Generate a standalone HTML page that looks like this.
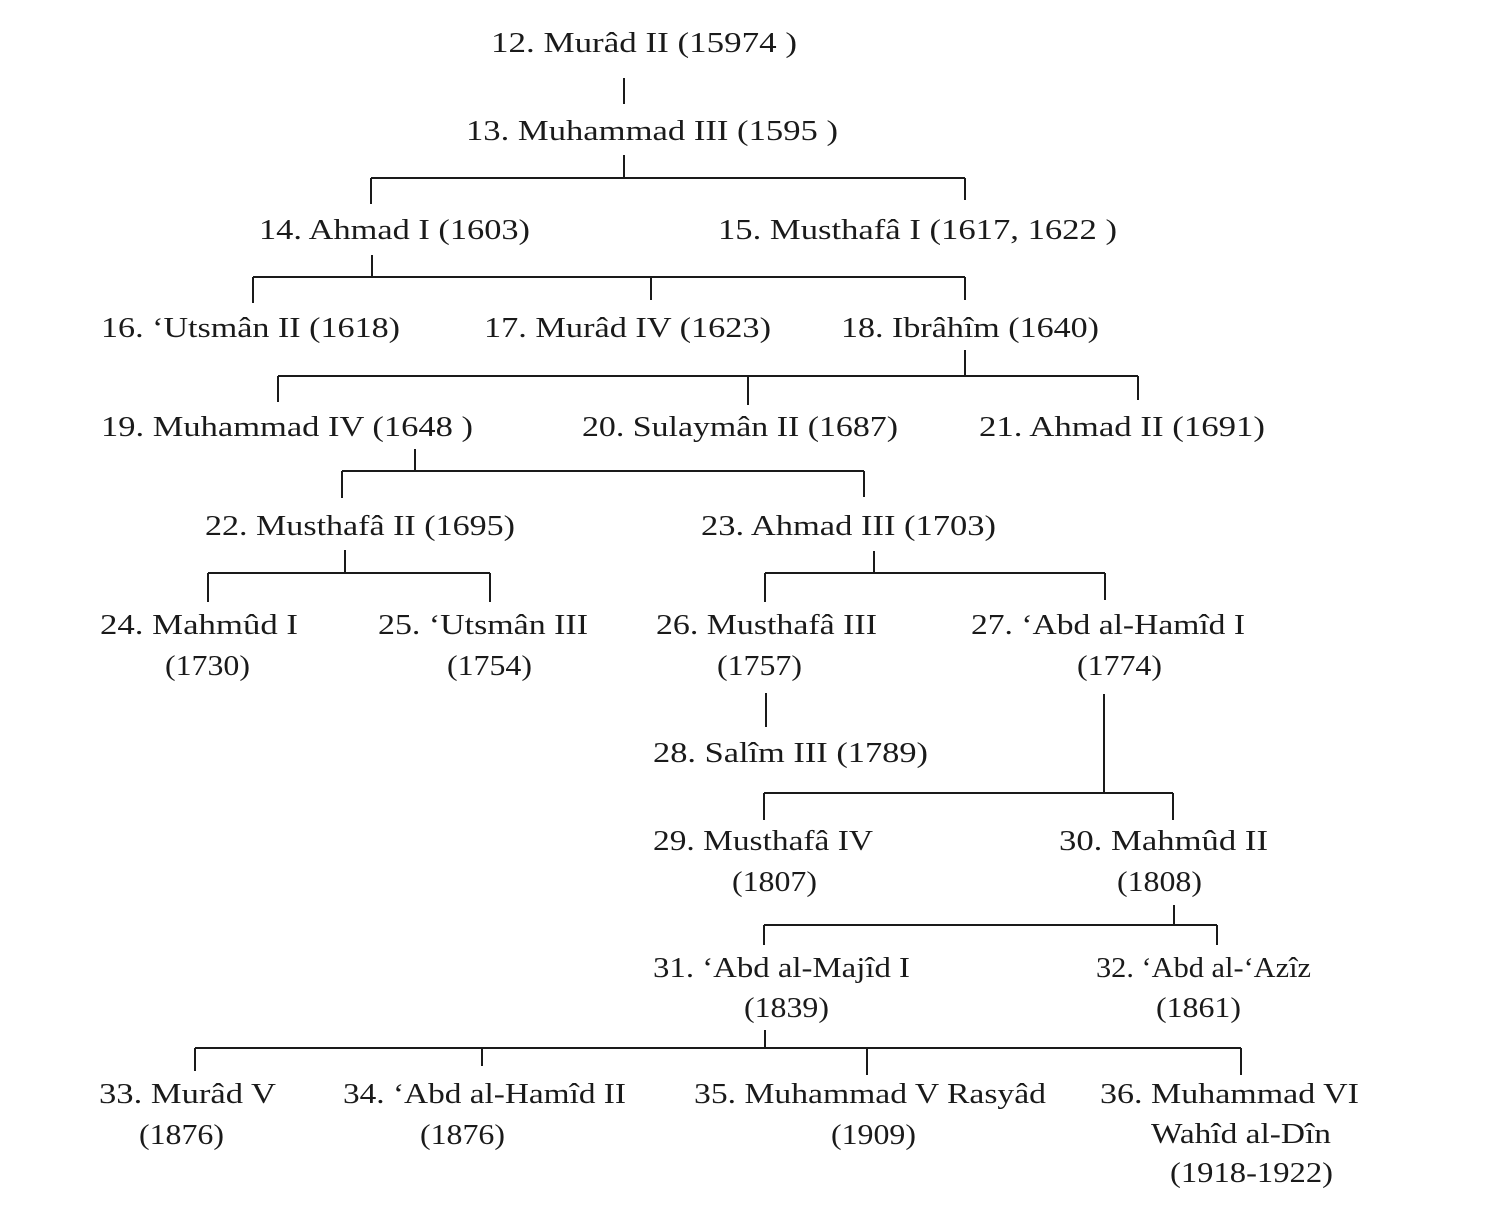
<!DOCTYPE html>
<html><head><meta charset="utf-8"><style>
html,body{margin:0;padding:0;background:#fff;}
svg{display:block}
text{font-family:"Liberation Serif","DejaVu Serif",serif;font-size:29px;fill:#1a1a1a;}
</style></head><body>
<svg width="1489" height="1205" viewBox="0 0 1489 1205" xmlns="http://www.w3.org/2000/svg">
<g stroke="#1a1a1a" stroke-width="2" fill="none">
<path d="M624 78V104"/>
<path d="M624 155V178M371 178H965M371 178V204M965 178V200"/>
<path d="M372 255V277M253 277H965M253 277V303M651 277V300M965 277V300"/>
<path d="M965 350V376M278 376H1138M278 376V402M748 376V405M1138 376V400"/>
<path d="M415 449V471M342 471H864M342 471V498M864 471V497"/>
<path d="M345 550V573M208 573H490M208 573V602M490 573V602"/>
<path d="M874 551V573M765 573H1105M765 573V602M1105 573V600"/>
<path d="M766 693V727"/>
<path d="M1104 694V793M764 793H1173M764 793V820M1173 793V820"/>
<path d="M1174 905V925M764 925H1217M764 925V945M1217 925V945"/>
<path d="M765 1030V1048M195 1048H1241M195 1048V1071M482 1048V1066M867 1048V1075M1241 1048V1075"/>
</g>
<g lengthAdjust="spacingAndGlyphs">
<text x="491" y="52" textLength="306" lengthAdjust="spacingAndGlyphs">12. Murâd II (15974 )</text>
<text x="466" y="140" textLength="372" lengthAdjust="spacingAndGlyphs">13. Muhammad III (1595 )</text>
<text x="259" y="239" textLength="271" lengthAdjust="spacingAndGlyphs">14. Ahmad I (1603)</text>
<text x="718" y="239" textLength="399" lengthAdjust="spacingAndGlyphs">15. Musthafâ I (1617, 1622 )</text>
<text x="101" y="337" textLength="299" lengthAdjust="spacingAndGlyphs">16. ‘Utsmân II (1618)</text>
<text x="484" y="337" textLength="287" lengthAdjust="spacingAndGlyphs">17. Murâd IV (1623)</text>
<text x="841" y="337" textLength="258" lengthAdjust="spacingAndGlyphs">18. Ibrâhîm (1640)</text>
<text x="101" y="436" textLength="372" lengthAdjust="spacingAndGlyphs">19. Muhammad IV (1648 )</text>
<text x="582" y="436" textLength="316" lengthAdjust="spacingAndGlyphs">20. Sulaymân II (1687)</text>
<text x="979" y="436" textLength="286" lengthAdjust="spacingAndGlyphs">21. Ahmad II (1691)</text>
<text x="205" y="535" textLength="310" lengthAdjust="spacingAndGlyphs">22. Musthafâ II (1695)</text>
<text x="701" y="535" textLength="295" lengthAdjust="spacingAndGlyphs">23. Ahmad III (1703)</text>
<text x="100" y="634" textLength="198" lengthAdjust="spacingAndGlyphs">24. Mahmûd I</text>
<text x="165" y="675" textLength="85" lengthAdjust="spacingAndGlyphs">(1730)</text>
<text x="378" y="634" textLength="210" lengthAdjust="spacingAndGlyphs">25. ‘Utsmân III</text>
<text x="447" y="675" textLength="85" lengthAdjust="spacingAndGlyphs">(1754)</text>
<text x="656" y="634" textLength="221" lengthAdjust="spacingAndGlyphs">26. Musthafâ III</text>
<text x="717" y="675" textLength="85" lengthAdjust="spacingAndGlyphs">(1757)</text>
<text x="971" y="634" textLength="274" lengthAdjust="spacingAndGlyphs">27. ‘Abd al-Hamîd I</text>
<text x="1077" y="675" textLength="85" lengthAdjust="spacingAndGlyphs">(1774)</text>
<text x="653" y="762" textLength="275" lengthAdjust="spacingAndGlyphs">28. Salîm III (1789)</text>
<text x="653" y="850" textLength="220" lengthAdjust="spacingAndGlyphs">29. Musthafâ IV</text>
<text x="732" y="891" textLength="85" lengthAdjust="spacingAndGlyphs">(1807)</text>
<text x="1059" y="850" textLength="209" lengthAdjust="spacingAndGlyphs">30. Mahmûd II</text>
<text x="1117" y="891" textLength="85" lengthAdjust="spacingAndGlyphs">(1808)</text>
<text x="653" y="977" textLength="257" lengthAdjust="spacingAndGlyphs">31. ‘Abd al-Majîd I</text>
<text x="744" y="1017" textLength="85" lengthAdjust="spacingAndGlyphs">(1839)</text>
<text x="1096" y="977" textLength="215" lengthAdjust="spacingAndGlyphs">32. ‘Abd al-‘Azîz</text>
<text x="1156" y="1017" textLength="85" lengthAdjust="spacingAndGlyphs">(1861)</text>
<text x="99" y="1103" textLength="177" lengthAdjust="spacingAndGlyphs">33. Murâd V</text>
<text x="139" y="1144" textLength="85" lengthAdjust="spacingAndGlyphs">(1876)</text>
<text x="343" y="1103" textLength="283" lengthAdjust="spacingAndGlyphs">34. ‘Abd al-Hamîd II</text>
<text x="420" y="1144" textLength="85" lengthAdjust="spacingAndGlyphs">(1876)</text>
<text x="694" y="1103" textLength="352" lengthAdjust="spacingAndGlyphs">35. Muhammad V Rasyâd</text>
<text x="831" y="1144" textLength="85" lengthAdjust="spacingAndGlyphs">(1909)</text>
<text x="1100" y="1103" textLength="259" lengthAdjust="spacingAndGlyphs">36. Muhammad VI</text>
<text x="1151" y="1143" textLength="180" lengthAdjust="spacingAndGlyphs">Wahîd al-Dîn</text>
<text x="1170" y="1182" textLength="163" lengthAdjust="spacingAndGlyphs">(1918-1922)</text>
</g>
</svg>
</body></html>
